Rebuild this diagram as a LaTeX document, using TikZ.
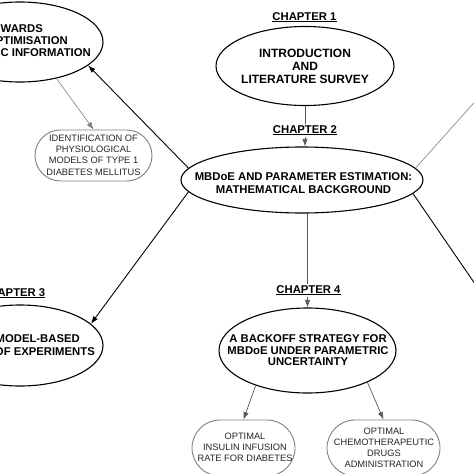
\documentclass[tikz,border=0pt]{standalone}
\usepackage{fontspec}
\setmainfont{Liberation Sans}
\usetikzlibrary{shapes.geometric,shapes.misc,arrows.meta}
\begin{document}
\begin{tikzpicture}[x=1pt,y=-1pt,
  ell/.style={draw=black,line width=1.1pt,ellipse,inner sep=0pt},
  etext/.style={font=\fontsize{11.3}{13}\selectfont\bfseries,align=center,inner sep=0pt},
  rbox/.style={draw=black!50,line width=0.9pt,rounded rectangle,inner sep=0pt},
  btext/.style={font=\fontsize{9.3}{11.3}\selectfont,text=black!85,align=center,inner sep=0pt},
  chap/.style={font=\fontsize{11.3}{13}\selectfont\bfseries,inner sep=1.5pt,fill=white},
  tip/.style={-{Latex[length=7.5pt,width=5.5pt]}},
  blk/.style={draw=black,line width=0.9pt},
  mid/.style={draw=black!65,line width=0.7pt},
  lgt/.style={draw=black!50,line width=0.6pt}
]
\useasboundingbox (0,0) rectangle (474,474);
\clip (0,0) rectangle (474,474);
\fill[white] (0,0) rectangle (474,474);

% ellipses
\node[ell,minimum width=166pt,minimum height=80pt] (tl) at (20,42) {};
\node[ell,minimum width=178pt,minimum height=79pt] (intro) at (305,66) {};
\node[ell,minimum width=242pt,minimum height=66pt] (mbdoe) at (302,180) {};
\node[ell,minimum width=166pt,minimum height=81pt] (ch3) at (20,345.5) {};
\node[ell,minimum width=177pt,minimum height=85pt] (backoff) at (307.5,350.5) {};

% rounded boxes
\node[rbox,minimum width=117pt,minimum height=51pt] (ident) at (93.5,155.5) {};
\node[rbox,minimum width=103pt,minimum height=56pt] (insulin) at (243.5,448) {};
\node[rbox,minimum width=113pt,minimum height=56pt] (chemo) at (383.5,448) {};

% free ends
\coordinate (ur) at (530,40);
\coordinate (lr) at (530,364);

% texts
\node[etext,anchor=east] (tlA) at (43,29) {TOWARDS};
\node[etext,anchor=east] (tlB) at (68,41) {OPTIMISATION};
\node[etext,anchor=east] (tlC) at (91,52.5) {C INFORMATION};
\node[etext,font=\fontsize{12}{13}\selectfont\bfseries] (introT) at (305,66) {INTRODUCTION\\AND\\LITERATURE SURVEY};
\node[etext,font=\fontsize{11.3}{13.5}\selectfont\bfseries] (mbdoeT) at (303.5,183) {MBDoE AND PARAMETER ESTIMATION:\\MATHEMATICAL BACKGROUND};
\node[etext,anchor=east] (ch3A) at (80,338.5) {MODEL-BASED};
\node[etext,anchor=east] (ch3B) at (95,352) {OF EXPERIMENTS};
\node[etext,font=\fontsize{11.3}{11.6}\selectfont\bfseries] (backoffT) at (308,350.5) {A BACKOFF STRATEGY FOR\\MBDoE UNDER PARAMETRIC\\UNCERTAINTY};
\node[btext] (identT) at (93.5,155) {IDENTIFICATION OF\\PHYSIOLOGICAL\\MODELS OF TYPE 1\\DIABETES MELLITUS};
\node[btext,font=\fontsize{9.3}{11}\selectfont] (insulinT) at (245,447) {OPTIMAL\\INSULIN INFUSION\\RATE FOR DIABETES};
\node[btext,font=\fontsize{9.3}{11}\selectfont] (chemoT) at (384,447.5) {OPTIMAL\\CHEMOTHERAPEUTIC\\DRUGS\\ADMINISTRATION};

% connectors
\draw[mid,tip] (intro.south) -- (intro.south |- mbdoe.north);
\draw[mid,tip] (backoff.north |- mbdoe.south) -- (backoff.north);
\draw[blk,tip] (mbdoe.174) -- (tl.-19.4);
\draw[blk,tip] (mbdoe.186) -- (ch3.17.4);
\draw[lgt,tip] (tl.-45) -- (ident.north);
\draw[lgt] (mbdoe.6.6) -- (ur);
\draw[blk] (mbdoe.-7) -- (lr);
\draw[mid,tip] (backoff.214.3) -- (insulin.north);
\draw[mid,tip] (backoff.-28.6) -- (chemo.north);

% chapter labels
\node[chap,anchor=base] (c1) at (304.5,20) {\underline{CHAPTER 1}};
\node[chap,anchor=base] (c2) at (305,133) {\underline{CHAPTER 2}};
\node[chap,anchor=base east] (c3) at (47,296) {\underline{CHAPTER 3}};
\node[chap,anchor=base] (c4) at (308.5,293) {\underline{CHAPTER 4}};
\end{tikzpicture}
\end{document}
